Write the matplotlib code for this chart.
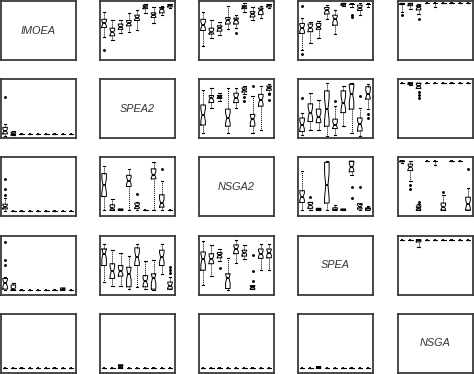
import matplotlib
matplotlib.use('Agg')
import matplotlib.pyplot as plt

# algorithm names on the diagonal
algos = ['IMOEA', 'SPEA2', 'NSGA2', 'SPEA', 'NSGA']

# box stats per panel, one tuple per box: (lo, q1, med, q3, hi)
# y is scaled 0..1 inside each panel (no axis shown in the original)
p12 = [(0.39, 0.55, 0.62, 0.69, 0.82), (0.34, 0.41, 0.47, 0.54, 0.67), (0.45, 0.52, 0.56, 0.61, 0.68),
       (0.47, 0.58, 0.62, 0.67, 0.79), (0.51, 0.67, 0.72, 0.76, 0.85), (0.80, 0.87, 0.90, 0.93, 0.95),
       (0.63, 0.72, 0.76, 0.80, 0.90), (0.76, 0.80, 0.86, 0.89, 0.92), (0.88, 0.90, 0.93, 0.94, 0.95)]
p12_fl = [[0.17], [], [], [], [], [], [], [], []]

p13 = [(0.23, 0.50, 0.59, 0.69, 0.82), (0.37, 0.44, 0.48, 0.54, 0.67), (0.42, 0.49, 0.54, 0.58, 0.65),
       (0.52, 0.61, 0.67, 0.72, 0.92), (0.54, 0.61, 0.67, 0.71, 0.76), (0.82, 0.87, 0.90, 0.92, 0.96),
       (0.67, 0.73, 0.78, 0.82, 0.90), (0.72, 0.77, 0.84, 0.88, 0.92), (0.88, 0.90, 0.93, 0.94, 0.95)]
p13_fl = [[], [], [], [], [0.45], [], [], [], []]

p14 = [(0.17, 0.45, 0.54, 0.62, 0.72), (0.28, 0.48, 0.55, 0.61, 0.65), (0.37, 0.52, 0.56, 0.62, 0.66),
       (0.69, 0.78, 0.84, 0.89, 0.93), (0.44, 0.59, 0.69, 0.76, 0.85), (0.92, 0.93, 0.95, 0.96, 0.96),
       (0.90, 0.95, 0.95, 0.95, 0.96), (0.76, 0.84, 0.88, 0.93, 0.96), (0.90, 0.95, 0.95, 0.95, 0.96)]
p14_fl = [[0.92, 0.11], [], [], [], [], [], [0.77, 0.73], [], []]

p15 = [(0.82, 0.94, 0.95, 0.96, 0.96), (0.86, 0.92, 0.95, 0.96, 0.96), (0.78, 0.85, 0.89, 0.92, 0.95),
       (0.96, 0.96, 0.96, 0.96, 0.96), (0.90, 0.96, 0.96, 0.96, 0.96), (0.96, 0.96, 0.96, 0.96, 0.96),
       (0.96, 0.96, 0.96, 0.96, 0.96), (0.96, 0.96, 0.96, 0.96, 0.96), (0.96, 0.96, 0.96, 0.96, 0.96)]
p15_fl = [[0.76], [], [0.69], [], [], [], [], [], []]

p21 = [(0.04, 0.07, 0.12, 0.18, 0.23), (0.05, 0.05, 0.07, 0.10, 0.12), (0.06, 0.06, 0.06, 0.06, 0.06),
       (0.06, 0.06, 0.06, 0.06, 0.06), (0.06, 0.06, 0.06, 0.06, 0.06), (0.06, 0.06, 0.06, 0.06, 0.06),
       (0.06, 0.06, 0.06, 0.06, 0.06), (0.06, 0.06, 0.06, 0.06, 0.06), (0.06, 0.06, 0.06, 0.06, 0.06)]
p21_fl = [[0.69], [], [], [], [], [], [], [], []]

p23 = [(0.09, 0.22, 0.39, 0.56, 0.82), (0.51, 0.60, 0.67, 0.72, 0.85), (0.63, 0.67, 0.70, 0.72, 0.77),
       (0.09, 0.20, 0.34, 0.49, 0.85), (0.51, 0.60, 0.68, 0.76, 0.85), (0.74, 0.78, 0.81, 0.85, 0.88),
       (0.09, 0.20, 0.32, 0.40, 0.71), (0.14, 0.54, 0.64, 0.74, 0.88), (0.77, 0.81, 0.85, 0.88, 0.91)]
p23_fl = [[], [], [], [], [], [0.70, 0.63], [0.88], [], [0.74, 0.64]]

p24 = [(0.05, 0.11, 0.22, 0.34, 0.43), (0.14, 0.28, 0.43, 0.58, 0.76), (0.14, 0.26, 0.36, 0.49, 0.64),
       (0.03, 0.20, 0.49, 0.80, 0.93), (0.05, 0.16, 0.22, 0.32, 0.54), (0.20, 0.43, 0.60, 0.80, 0.88),
       (0.09, 0.49, 0.74, 0.91, 0.94), (0.03, 0.12, 0.23, 0.34, 0.51), (0.49, 0.66, 0.74, 0.87, 0.91)]
p24_fl = [[0.68], [], [], [], [0.63], [], [], [0.72], [0.40, 0.34]]

p25 = [(0.93, 0.93, 0.93, 0.93, 0.93), (0.90, 0.91, 0.93, 0.93, 0.93), (0.84, 0.84, 0.88, 0.93, 0.93),
       (0.93, 0.93, 0.93, 0.93, 0.93), (0.93, 0.93, 0.93, 0.93, 0.93), (0.93, 0.93, 0.93, 0.93, 0.93),
       (0.93, 0.93, 0.93, 0.93, 0.93), (0.93, 0.93, 0.93, 0.93, 0.93), (0.93, 0.93, 0.93, 0.93, 0.93)]
p25_fl = [[], [], [0.78, 0.73, 0.67], [], [], [], [], [], []]

p31 = [(0.08, 0.12, 0.16, 0.20, 0.30), (0.08, 0.08, 0.08, 0.08, 0.08), (0.08, 0.08, 0.08, 0.08, 0.08),
       (0.08, 0.08, 0.08, 0.08, 0.08), (0.08, 0.08, 0.08, 0.08, 0.08), (0.08, 0.08, 0.08, 0.08, 0.08),
       (0.08, 0.08, 0.08, 0.08, 0.08), (0.08, 0.08, 0.08, 0.08, 0.08), (0.08, 0.08, 0.08, 0.08, 0.08)]
p31_fl = [[0.63, 0.46, 0.35], [], [], [], [], [], [], [], []]

p32 = [(0.10, 0.33, 0.52, 0.72, 0.84), (0.10, 0.10, 0.13, 0.19, 0.28), (0.10, 0.10, 0.10, 0.12, 0.12),
       (0.10, 0.50, 0.60, 0.69, 0.80), (0.10, 0.13, 0.17, 0.22, 0.24), (0.10, 0.10, 0.10, 0.10, 0.10),
       (0.10, 0.63, 0.70, 0.80, 0.91), (0.10, 0.15, 0.22, 0.36, 0.60), (0.10, 0.10, 0.10, 0.10, 0.10)]
p32_fl = [[], [], [], [], [0.38], [], [], [0.80], []]

p34 = [(0.10, 0.23, 0.33, 0.43, 0.77), (0.10, 0.13, 0.18, 0.23, 0.23), (0.10, 0.10, 0.10, 0.13, 0.13),
       (0.10, 0.22, 0.52, 0.91, 0.93), (0.10, 0.10, 0.11, 0.14, 0.18), (0.10, 0.10, 0.10, 0.12, 0.12),
       (0.69, 0.75, 0.83, 0.93, 0.93), (0.10, 0.12, 0.16, 0.21, 0.21), (0.10, 0.10, 0.13, 0.13, 0.17)]
p34_fl = [[], [0.33], [], [], [], [], [0.50, 0.30], [0.49], []]

p35 = [(0.90, 0.92, 0.93, 0.93, 0.93), (0.60, 0.77, 0.83, 0.88, 0.93), (0.10, 0.10, 0.13, 0.17, 0.20),
       (0.93, 0.93, 0.93, 0.93, 0.93), (0.87, 0.93, 0.93, 0.93, 0.93), (0.10, 0.10, 0.15, 0.22, 0.36),
       (0.93, 0.93, 0.93, 0.93, 0.93), (0.93, 0.93, 0.93, 0.93, 0.93), (0.10, 0.10, 0.20, 0.32, 0.47)]
p35_fl = [[], [0.53, 0.46], [0.23], [], [], [0.41], [], [], [0.80]]

p41 = [(0.08, 0.10, 0.20, 0.28, 0.30), (0.08, 0.08, 0.10, 0.17, 0.20), (0.08, 0.08, 0.08, 0.08, 0.08),
       (0.08, 0.08, 0.08, 0.08, 0.08), (0.08, 0.08, 0.08, 0.08, 0.08), (0.08, 0.08, 0.08, 0.08, 0.08),
       (0.08, 0.08, 0.08, 0.08, 0.08), (0.08, 0.08, 0.09, 0.12, 0.12), (0.08, 0.08, 0.08, 0.08, 0.08)]
p41_fl = [[0.89, 0.59, 0.51], [], [], [], [], [], [], [], []]

p42 = [(0.22, 0.50, 0.70, 0.78, 0.87), (0.16, 0.28, 0.40, 0.53, 0.76), (0.16, 0.32, 0.40, 0.50, 0.72),
       (0.10, 0.14, 0.36, 0.47, 0.66), (0.14, 0.50, 0.64, 0.80, 0.87), (0.10, 0.14, 0.23, 0.33, 0.57),
       (0.08, 0.10, 0.28, 0.36, 0.60), (0.36, 0.50, 0.64, 0.76, 0.87), (0.10, 0.10, 0.16, 0.22, 0.30)]
p42_fl = [[], [], [], [], [], [], [], [], [0.47, 0.42, 0.38]]

p43 = [(0.17, 0.42, 0.61, 0.73, 0.91), (0.33, 0.53, 0.61, 0.70, 0.84), (0.58, 0.63, 0.67, 0.72, 0.78),
       (0.09, 0.11, 0.28, 0.36, 0.62), (0.55, 0.70, 0.78, 0.85, 0.93), (0.61, 0.66, 0.72, 0.76, 0.84),
       (0.10, 0.10, 0.13, 0.16, 0.16), (0.42, 0.62, 0.70, 0.78, 0.87), (0.43, 0.63, 0.72, 0.78, 0.87)]
p43_fl = [[], [], [0.46], [], [], [], [0.68, 0.40, 0.23], [], []]

p45 = [(0.93, 0.93, 0.93, 0.93, 0.93), (0.93, 0.93, 0.93, 0.93, 0.93), (0.82, 0.90, 0.93, 0.93, 0.93),
       (0.93, 0.93, 0.93, 0.93, 0.93), (0.93, 0.93, 0.93, 0.93, 0.93), (0.93, 0.93, 0.93, 0.93, 0.93),
       (0.93, 0.93, 0.93, 0.93, 0.93), (0.93, 0.93, 0.93, 0.93, 0.93), (0.93, 0.93, 0.93, 0.93, 0.93)]
p45_fl = [[], [], [], [], [], [], [], [], []]

p51 = [(0.08, 0.08, 0.08, 0.08, 0.08)] * 9
p51_fl = [[]] * 9

p52 = [(0.08, 0.08, 0.08, 0.08, 0.08), (0.08, 0.08, 0.08, 0.08, 0.08), (0.08, 0.08, 0.10, 0.14, 0.14),
       (0.08, 0.08, 0.08, 0.08, 0.08), (0.08, 0.08, 0.08, 0.08, 0.08), (0.08, 0.08, 0.08, 0.08, 0.08),
       (0.08, 0.08, 0.08, 0.08, 0.08), (0.08, 0.08, 0.08, 0.08, 0.08), (0.08, 0.08, 0.08, 0.08, 0.08)]
p52_fl = [[]] * 9

p53 = [(0.08, 0.08, 0.08, 0.08, 0.08)] * 9
p53_fl = [[]] * 9

p54 = [(0.08, 0.08, 0.08, 0.08, 0.08), (0.08, 0.08, 0.08, 0.08, 0.08), (0.08, 0.08, 0.09, 0.11, 0.11),
       (0.08, 0.08, 0.08, 0.08, 0.08), (0.08, 0.08, 0.08, 0.08, 0.08), (0.08, 0.08, 0.08, 0.08, 0.08),
       (0.08, 0.08, 0.08, 0.08, 0.08), (0.08, 0.08, 0.08, 0.08, 0.08), (0.08, 0.08, 0.08, 0.08, 0.08)]
p54_fl = [[]] * 9

panels = {
    (0, 1): (p12, p12_fl), (0, 2): (p13, p13_fl), (0, 3): (p14, p14_fl), (0, 4): (p15, p15_fl),
    (1, 0): (p21, p21_fl), (1, 2): (p23, p23_fl), (1, 3): (p24, p24_fl), (1, 4): (p25, p25_fl),
    (2, 0): (p31, p31_fl), (2, 1): (p32, p32_fl), (2, 3): (p34, p34_fl), (2, 4): (p35, p35_fl),
    (3, 0): (p41, p41_fl), (3, 1): (p42, p42_fl), (3, 2): (p43, p43_fl), (3, 4): (p45, p45_fl),
    (4, 0): (p51, p51_fl), (4, 1): (p52, p52_fl), (4, 2): (p53, p53_fl), (4, 3): (p54, p54_fl),
}

W, H = 474, 374
fig = plt.figure(figsize=(W / 100, H / 100), dpi=100)

col_left = [1, 100, 199, 298, 398]   # px
row_top = [1, 79, 157, 236, 314]     # px
pw, ph = 75, 59

def make_stats(rows, fliers):
    out = []
    for (lo, q1, med, q3, hi), fl in zip(rows, fliers):
        iqr = q3 - q1
        out.append(dict(whislo=lo, q1=q1, med=med, q3=q3, whishi=hi,
                        cilo=med - 0.3 * iqr, cihi=med + 0.3 * iqr, fliers=fl))
    return out

for r in range(5):
    for c in range(5):
        ax = fig.add_axes([col_left[c] / W, (H - row_top[r] - ph) / H, pw / W, ph / H])
        for s in ax.spines.values():
            s.set_color('#3a3a3a')
            s.set_linewidth(1.3)
        if r == c:
            ax.text(0.5, 0.5, algos[r], ha='center', va='center', style='italic',
                    fontsize=7.8, color='#333333', family=['Liberation Sans', 'DejaVu Sans'],
                    transform=ax.transAxes)
        else:
            rows, fl = panels[(r, c)]
            ax.bxp(make_stats(rows, fl), positions=range(1, 10), widths=0.55,
                   shownotches=True, capwidths=0.3, manage_ticks=False,
                   boxprops=dict(color='black', linewidth=0.7),
                   whiskerprops=dict(color='black', linewidth=0.7, linestyle=(0, (1, 1))),
                   capprops=dict(color='black', linewidth=0.8),
                   medianprops=dict(color='black', linewidth=1.3),
                   flierprops=dict(marker='o', markersize=1.1, markerfacecolor='black',
                                   markeredgecolor='black', linestyle='none'))
        ax.set_xlim(0.5, 9.6)
        ax.set_ylim(0, 1)
        ax.set_xticks([])
        ax.set_yticks([])

fig.savefig('out.png', dpi=100)
